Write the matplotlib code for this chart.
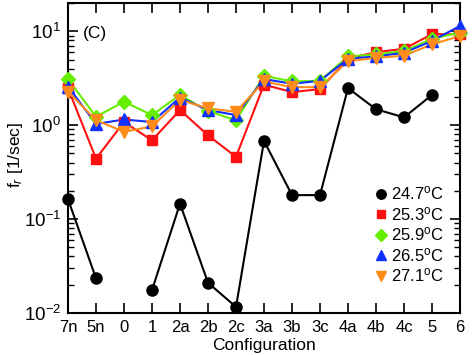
import matplotlib
matplotlib.use("Agg")
import matplotlib.pyplot as plt
import numpy as np
from matplotlib.ticker import LogLocator, NullFormatter

plt.rcParams['font.family'] = ['Liberation Sans', 'DejaVu Sans']
plt.rcParams['mathtext.fontset'] = 'custom'
plt.rcParams['mathtext.rm'] = 'Liberation Sans'
plt.rcParams['mathtext.it'] = 'Liberation Sans:italic'

configs = ['7n', '5n', '0', '1', '2a', '2b', '2c', '3a', '3b', '3c', '4a', '4b', '4c', '5', '6']
nan = np.nan
t247 = [0.163, 0.0234, nan, 0.0175, 0.146, 0.021, 0.0116, 0.68, 0.18, 0.18, 2.48, 1.48, 1.21, 2.1, nan]
t253 = [2.48, 0.44, 1.08, 0.69, 1.45, 0.78, 0.46, 2.7, 2.25, 2.42, 5.1, 6.0, 6.5, 9.3, 9.3]
t259 = [3.1, 1.23, 1.78, 1.28, 2.1, 1.41, 1.13, 3.36, 2.92, 2.97, 5.4, 5.66, 6.15, 8.3, 9.7]
t265 = [2.58, 1.03, 1.15, 1.08, 1.97, 1.45, 1.28, 3.1, 2.76, 2.97, 5.1, 5.4, 5.9, 7.9, 11.4]
t271 = [2.28, 1.13, 0.85, 0.97, 1.86, 1.51, 1.39, 2.92, 2.54, 2.54, 4.8, 5.2, 5.5, 7.25, 8.9]

labels = ['24.7$^{\\mathrm{o}}$C', '25.3$^{\\mathrm{o}}$C', '25.9$^{\\mathrm{o}}$C',
          '26.5$^{\\mathrm{o}}$C', '27.1$^{\\mathrm{o}}$C']

fig = plt.figure(figsize=(4.74, 3.55), dpi=100)
ax = fig.add_axes([68/474, 1-313/355, (460-68)/474, (313-3)/355])

x = np.arange(len(configs))
series = [t247, t253, t259, t265, t271]
colors = ['black', '#ff1010', '#66ee00', '#1030ff', '#ff8c1a']
markers = ['o', 's', 'D', '^', 'v']
msizes = [8, 7, 7, 8, 8]

handles = []
for ys, c, m, ms, lab in zip(series, colors, markers, msizes, labels):
    ys = np.array(ys, dtype=float)
    ax.plot(x, ys, '-', color=c, lw=1.5, zorder=2)
    h, = ax.plot(x, ys, linestyle='none', marker=m, color=c, ms=ms, mec=c, zorder=3,
                 label=lab, clip_on=False)
    handles.append(h)

ax.set_yscale('log')
ax.set_ylim(0.01, 20)
ax.set_xlim(0, len(configs)-1)
ax.set_xticks(x)
ax.set_xticklabels(configs)
ax.yaxis.set_major_locator(LogLocator(base=10, numticks=10))
ax.yaxis.set_minor_locator(LogLocator(base=10, subs=np.arange(2, 10), numticks=10))
ax.yaxis.set_minor_formatter(NullFormatter())

ax.tick_params(axis='both', which='major', direction='in', length=7, width=1.2,
               top=True, right=True)
ax.tick_params(axis='x', labelsize=12, pad=5)
ax.tick_params(axis='y', labelsize=13.5, pad=5)
ax.tick_params(axis='y', which='minor', direction='in', length=4, width=1, right=True)
for s in ax.spines.values():
    s.set_linewidth(1.5)

ax.set_xlabel('Configuration', fontsize=12.5, labelpad=2)
ax.set_ylabel('f$_r$ [1/sec]', fontsize=12.5)
ax.yaxis.set_label_coords(-0.11, 0.51)
ax.text(0.037, 0.925, '(C)', transform=ax.transAxes, fontsize=12.5, va='top', ha='left')

leg = ax.legend(handles=handles, loc='lower right', bbox_to_anchor=(0.985, 0.06),
                frameon=False, fontsize=12, handlelength=0.6, handletextpad=0.3,
                labelspacing=0.15, borderpad=0.1, markerscale=0.85)

fig.savefig('out.png', dpi=100)
